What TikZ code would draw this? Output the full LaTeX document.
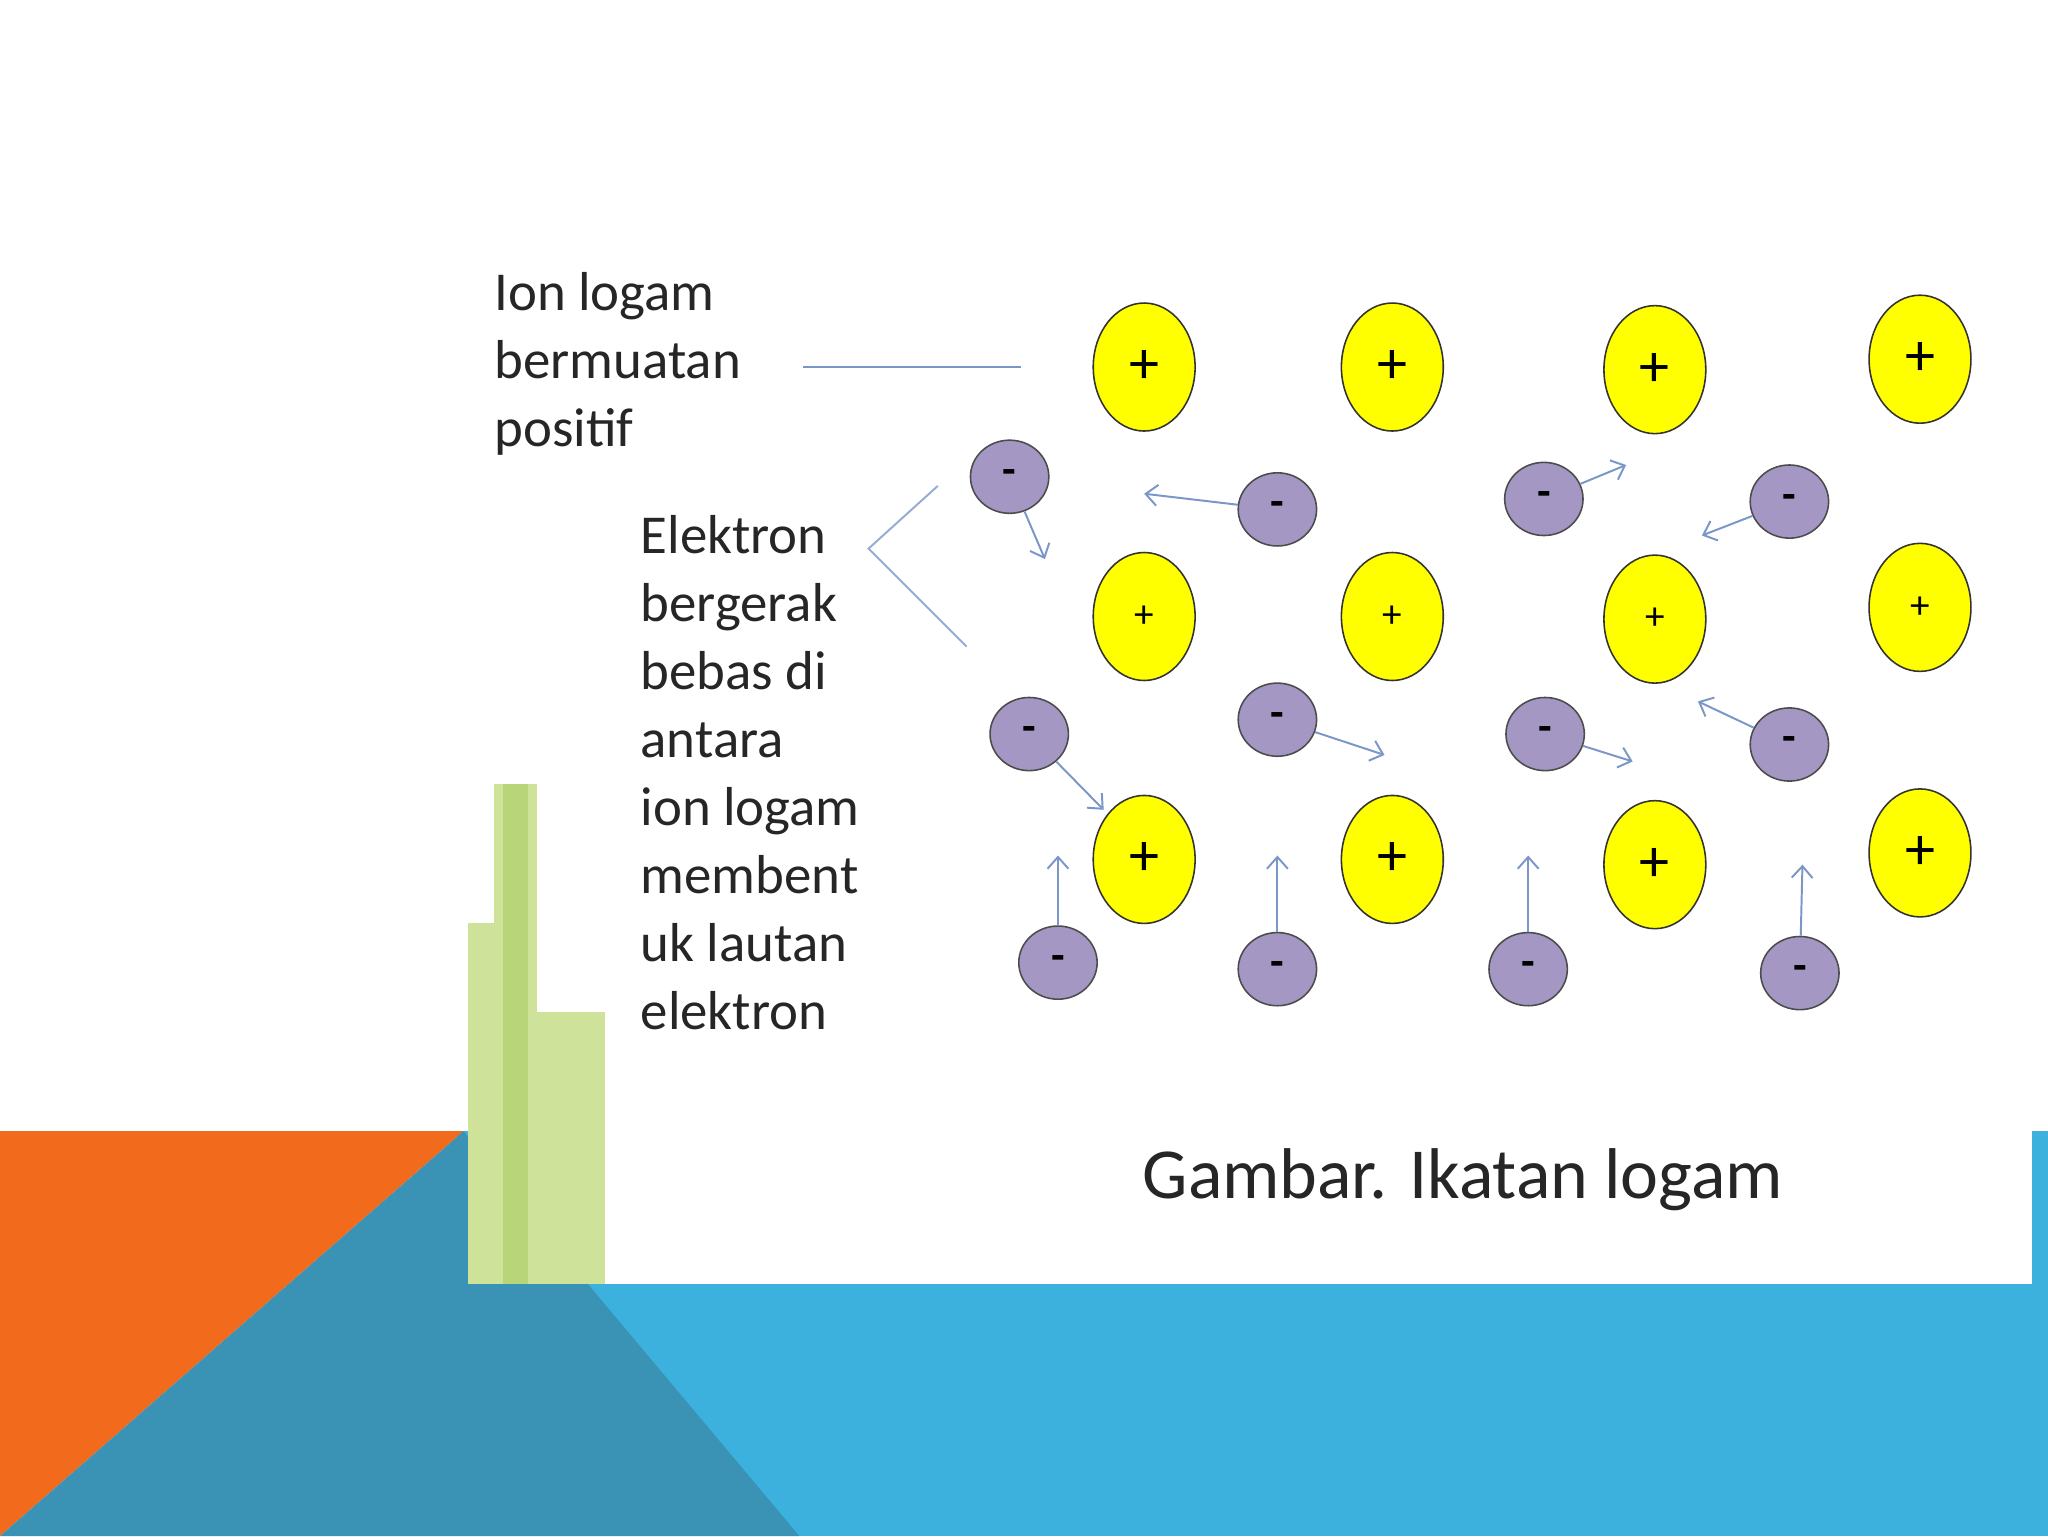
\documentclass[tikz,border=0pt]{standalone}
\usepackage{fontspec}
\setmainfont{Carlito}
\usetikzlibrary{arrows.meta,shapes.geometric}
\definecolor{orng}{HTML}{F26B1D}
\definecolor{teal2}{HTML}{3A93B5}
\definecolor{lblue}{HTML}{3CB1DE}
\definecolor{grn}{HTML}{CFE29A}
\definecolor{grn2}{HTML}{B9D57A}
\definecolor{ion}{HTML}{FFFF00}
\definecolor{elec}{HTML}{A497C4}
\definecolor{arr}{HTML}{7A97C8}
\tikzset{
 ionn/.style={ellipse,draw=black!80,fill=ion,minimum width=78pt,minimum height=98pt,inner sep=0pt,line width=1.2pt},
 elc/.style={ellipse,draw=black!70,fill=elec,minimum width=60pt,minimum height=56pt,inner sep=0pt,line width=1.2pt},
 mv/.style={draw=arr,line width=1.5pt,-{Straight Barb[length=9pt,width=16pt]}},
 lbl/.style={anchor=base west,font=\fontsize{42}{48}\selectfont,text=black!85}
}
\begin{document}
\begin{tikzpicture}[x=1pt,y=-1pt]
\useasboundingbox (0,0) rectangle (1568,1176);
\fill[white] (0,0) rectangle (1568,1176);
\fill[lblue] (350,866) rectangle (1568,1176);
\fill[orng] (0,866) -- (355,866) -- (0,1176) -- cycle;
\fill[teal2] (0,1176) -- (355,866) -- (450,983) -- (612,1176) -- cycle;
\fill[white] (358,145) rectangle (1556,983);
\fill[grn] (378,600) rectangle (411,983);
\fill[grn] (358,707) rectangle (378,983);
\fill[grn] (411,775) rectangle (463,983);
\fill[grn2] (385,600) rectangle (404,983);
\node[lbl] (t1) at (375,238) {Ion logam};
\node[lbl] (t2) at (375,290) {bermuatan};
\node[lbl] (t3) at (375,342) {positif};
\foreach \s [count=\i] in {Elektron,bergerak,bebas di,antara,ion logam,membent,uk lautan,elektron}
  \node[lbl] (e\i) at (487,{424+52*(\i-1)}) {\s};
\coordinate (la) at (615,281); \coordinate (lb) at (782,281);
\draw[arr,line width=1.5pt] (la) -- (lb);
\coordinate (b1) at (718,372); \coordinate (b2) at (665,420); \coordinate (b3) at (740,495);
\draw[arr!80,line width=1.5pt] (b1) -- (b2) -- (b3);
\foreach \x/\y/\n/\f in {876/281/a1/46,1066/281/a2/46,1267/283/a3/46,1470/275/a4/46,
 876/472/b1/30,1066/472/b2/30,1267/474/b3/30,1470/465/b4/30,
 876/658/c1/46,1066/658/c2/46,1267/662/c3/46,1470/653/c4/46}
 \node[ionn,font=\fontsize{\f}{\f}\selectfont] (i\n) at (\x,\y) {+};
\foreach \x/\y/\n in {773/365/1,978/390/2,1182/382/3,1370/384/4,
 788/562/5,978/551/6,1183/562/7,1370/570/8,
 810/737/9,978/742/10,1170/742/11,1378/745/12}
 \node[elc,font=\fontsize{34}{34}\selectfont\bfseries] (el\n) at (\x,\y) {-};
\coordinate (p1) at (800,428); \draw[mv] (el1) -- (p1);
\coordinate (p2) at (876,378); \draw[mv] (el2) -- (p2);
\coordinate (p3) at (1245,356); \draw[mv] (el3) -- (p3);
\coordinate (p4) at (1303,410); \draw[mv] (el4) -- (p4);
\coordinate (p5) at (845,620); \draw[mv] (el5) -- (p5);
\coordinate (p6) at (1060,578); \draw[mv] (el6) -- (p6);
\coordinate (p7) at (1250,583); \draw[mv] (el7) -- (p7);
\coordinate (p8) at (1300,537); \draw[mv] (el8) -- (p8);
\coordinate (p9) at (810,655); \draw[mv] (el9) -- (p9);
\coordinate (p10) at (978,655); \draw[mv] (el10) -- (p10);
\coordinate (p11) at (1170,655); \draw[mv] (el11) -- (p11);
\coordinate (p12) at (1380,662); \draw[mv] (el12) -- (p12);
\node[font=\fontsize{55}{60}\selectfont,text=black!85] (cap) at (1120,903) {Gambar. Ikatan logam};
\end{tikzpicture}
\end{document}
